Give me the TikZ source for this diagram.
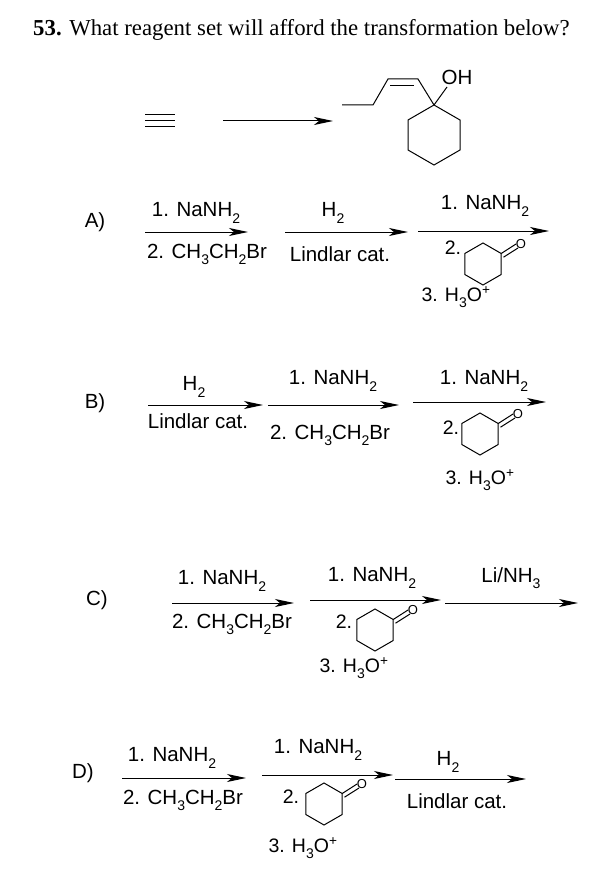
\documentclass[tikz,border=0pt]{standalone}
\usepackage{fontspec}
\setmainfont{Liberation Serif}
\setsansfont{Liberation Sans}
\usetikzlibrary{arrows.meta}
\newcommand{\dn}[1]{\raisebox{-0.3em}{\fontsize{14}{14}\selectfont #1}}
\newcommand{\ketone}[3]{% name, x, y center
  \draw[bond] (#2,#3-21) -- (#2+18.2,#3-10.5) -- (#2+18.2,#3+10.5) -- (#2,#3+21) -- (#2-18.2,#3+10.5) -- (#2-18.2,#3-10.5) -- cycle;
  \draw[bond] (#2+18.2,#3-10.5) -- (#2+33,#3-20);
  \draw[bond] (#2+20.5,#3-6.8) -- (#2+35,#3-16);
  \node[font=\sffamily\fontsize{13}{13}\selectfont,inner sep=0pt] (#1) at (#2+38,#3-19.5) {O};}
\begin{document}
\begin{tikzpicture}[x=1pt,y=-1pt,
  bond/.style={line width=1pt},
  rx/.style={line width=1pt,-{Stealth[length=19pt,width=8pt,inset=5pt]}},
  lab/.style={font=\sffamily\fontsize{20.5}{20.5}\selectfont,inner sep=0pt},
  small/.style={font=\sffamily\fontsize{19.5}{19.5}\selectfont,inner sep=0pt}]
\useasboundingbox (0,0) rectangle (604,880);
\node[anchor=west,font=\fontsize{22.8}{22.8}\selectfont,inner sep=0pt] (title) at (33,30) {\textbf{53.} What reagent set will afford the transformation below?};
% top
\draw[bond] (145,115) -- (175,115) (145,121) -- (175,121) (145,127) -- (175,127);
\coordinate (a0) at (223,121); \coordinate (a1) at (333,121);
\draw[rx] (a0) -- (a1);
\draw[bond] (342,105) -- (373,105) -- (388,79) -- (418,79) -- (434,105);
\draw[bond] (390,86) -- (414,86);
\draw[bond] (434,105) -- (460,120) -- (460,150) -- (434,165) -- (408,150) -- (408,120) -- cycle;
\node[lab] (oh) at (457,77) {OH};
\draw[bond] (434,105) -- (447,87);
% A
\node[lab] (A) at (95,222) {A)};
\coordinate (A1s) at (145,232); \coordinate (A1e) at (248,232);
\draw[rx] (A1s) -- (A1e);
\node[lab] at (196,213) {1. NaNH\dn{2}};
\node[lab] at (207,254) {2. CH\dn{3}CH\dn{2}Br};
\coordinate (A2s) at (285,232); \coordinate (A2e) at (408,232);
\draw[rx] (A2s) -- (A2e);
\node[lab] at (333,213) {H\dn{2}};
\node[lab] at (340,254) {Lindlar cat.};
\coordinate (A3s) at (418,231); \coordinate (A3e) at (549,231);
\draw[rx] (A3s) -- (A3e);
\node[lab] at (485,206) {1. NaNH\dn{2}};
\node[small] at (453,248) {2.};
\ketone{kA}{483}{264}
\node[small] at (456,297) {3. H\dn{3}O\textsuperscript{+}};
% B
\node[lab] (B) at (95,403) {B)};
\coordinate (B1s) at (148,405); \coordinate (B1e) at (263,405);
\draw[rx] (B1s) -- (B1e);
\node[lab] at (194,387) {H\dn{2}};
\node[lab] at (198,421) {Lindlar cat.};
\coordinate (B2s) at (268,405); \coordinate (B2e) at (399,405);
\draw[rx] (B2s) -- (B2e);
\node[lab] at (333,381) {1. NaNH\dn{2}};
\node[lab] at (330,435) {2. CH\dn{3}CH\dn{2}Br};
\coordinate (B3s) at (413,402); \coordinate (B3e) at (546,402);
\draw[rx] (B3s) -- (B3e);
\node[lab] at (484,381) {1. NaNH\dn{2}};
\node[small] at (451,428) {2.};
\ketone{kB}{480}{434}
\node[small] at (480,480) {3. H\dn{3}O\textsuperscript{+}};
% C
\node[lab] (C) at (97,600) {C)};
\coordinate (C1s) at (172,603); \coordinate (C1e) at (294,603);
\draw[rx] (C1s) -- (C1e);
\node[lab] at (222,581) {1. NaNH\dn{2}};
\node[lab] at (232,624) {2. CH\dn{3}CH\dn{2}Br};
\coordinate (C2s) at (310,600); \coordinate (C2e) at (441,600);
\draw[rx] (C2s) -- (C2e);
\node[lab] at (372,578) {1. NaNH\dn{2}};
\node[small] at (344,622) {2.};
\ketone{kC}{375}{630}
\node[small] at (354,668) {3. H\dn{3}O\textsuperscript{+}};
\coordinate (C3s) at (445,603); \coordinate (C3e) at (578,603);
\draw[rx] (C3s) -- (C3e);
\node[lab] at (511,578) {Li/NH\dn{3}};
% D
\node[lab] (D) at (83,773) {D)};
\coordinate (D1s) at (122,778); \coordinate (D1e) at (246,778);
\draw[rx] (D1s) -- (D1e);
\node[lab] at (172,758) {1. NaNH\dn{2}};
\node[lab] at (183,800) {2. CH\dn{3}CH\dn{2}Br};
\coordinate (D2s) at (262,775); \coordinate (D2e) at (393,775);
\draw[rx] (D2s) -- (D2e);
\node[lab] at (318,750) {1. NaNH\dn{2}};
\node[small] at (291,797) {2.};
\ketone{kD}{324}{804}
\node[small] at (303,848) {3. H\dn{3}O\textsuperscript{+}};
\coordinate (D3s) at (395,779); \coordinate (D3e) at (526,779);
\draw[rx] (D3s) -- (D3e);
\node[lab] at (448,762) {H\dn{2}};
\node[lab] at (457,801) {Lindlar cat.};
\end{tikzpicture}
\end{document}
